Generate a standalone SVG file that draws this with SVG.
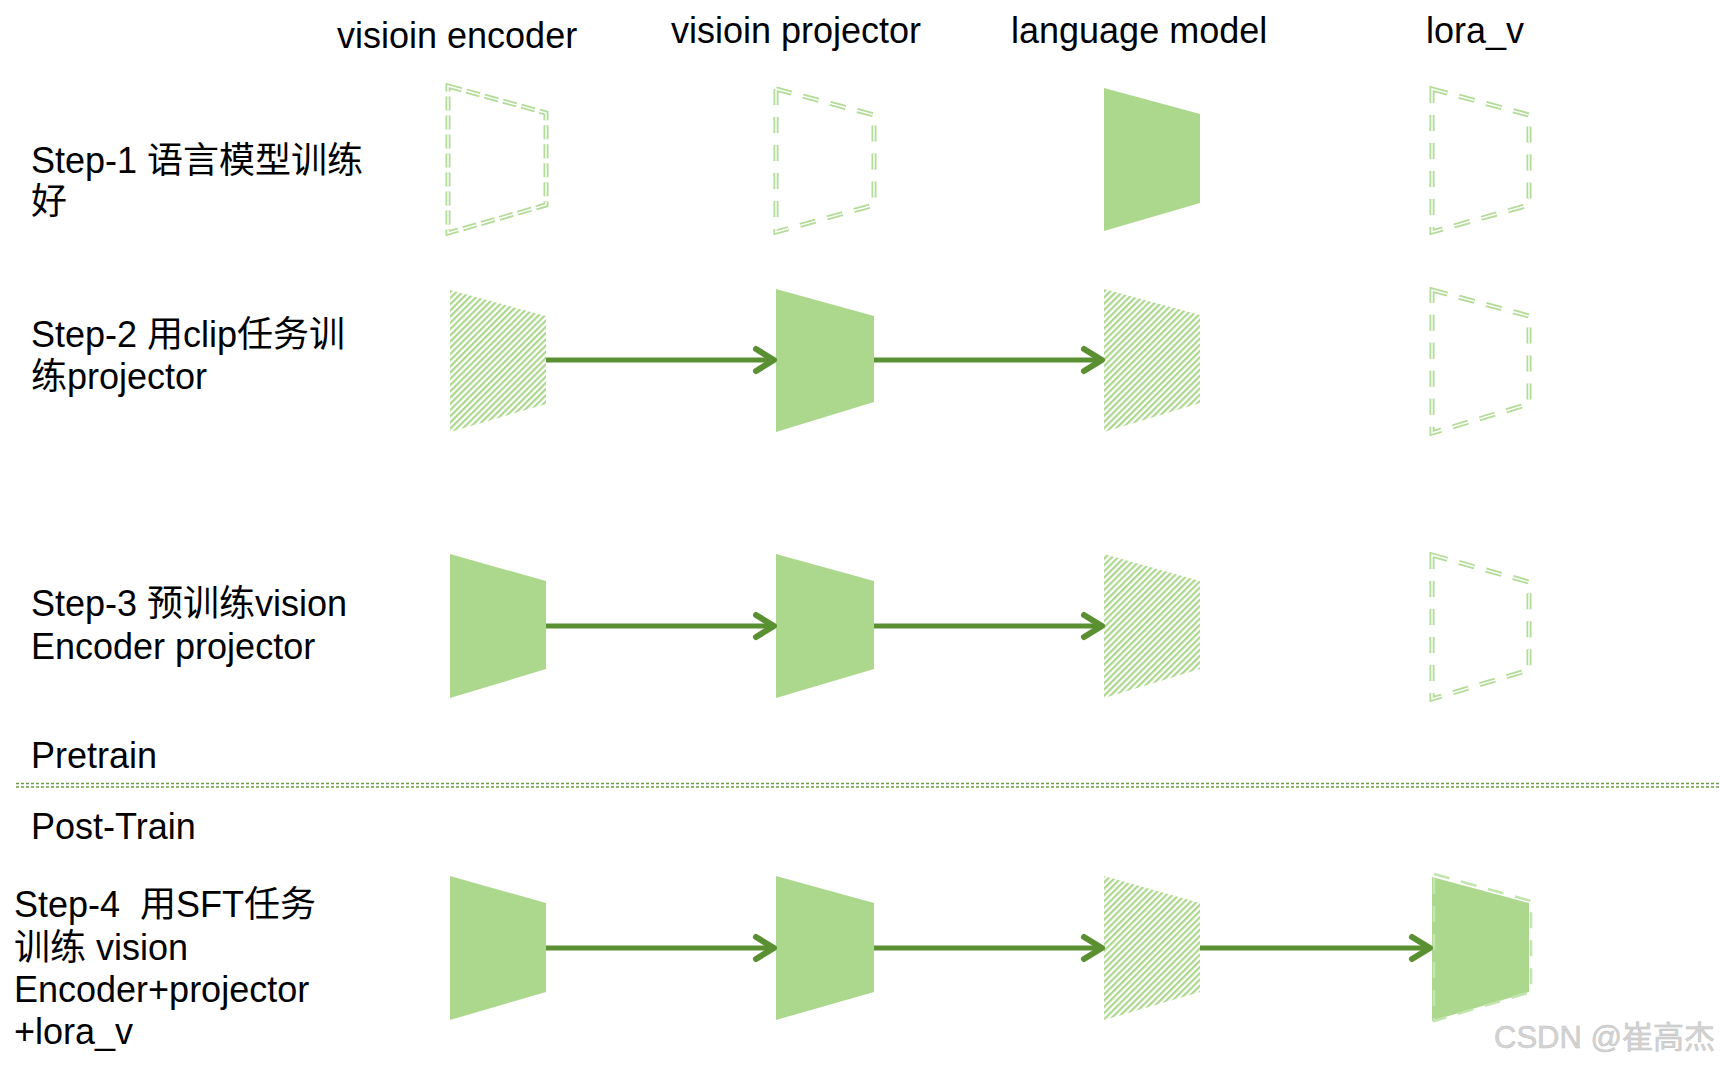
<svg xmlns="http://www.w3.org/2000/svg" width="1720" height="1066" viewBox="0 0 1720 1066">
<style>
  text { font-family: "Liberation Sans", "Noto Sans CJK SC", sans-serif; font-size: 36px; fill: #000; }
  .wm { font-size: 31px; fill: #d4d4d4; stroke: #c0c0c0; stroke-width: 0.5; }
  .solid { fill: #acd88e; }
  .hatch { fill: url(#hatch); }
  .dashOuter { fill: none; stroke: #b2dc98; stroke-width: 5; stroke-dasharray: 16 12; }
  .dashInner { fill: none; stroke: #ffffff; stroke-width: 1.4; stroke-dasharray: 16 12; }
  .dashOuterD { fill: none; stroke: #b2dc98; stroke-width: 5; stroke-dasharray: 14 5; }
  .dashInnerD { fill: none; stroke: #ffffff; stroke-width: 1.4; stroke-dasharray: 14 5; }
  .arrow { stroke: #5a8f32; stroke-width: 5; fill: none; marker-end: url(#chev); }
  .sep { stroke: #6c9f44; stroke-width: 1.6; stroke-dasharray: 3 2; fill: none; }
</style>
<defs>
  <pattern id="hatch" patternUnits="userSpaceOnUse" width="4.4" height="4.4" patternTransform="rotate(45)">
    <rect x="0" y="0" width="2.2" height="4.4" fill="#acd88e"/>
  </pattern>
  <marker id="chev" markerUnits="userSpaceOnUse" markerWidth="40" markerHeight="40" refX="30" refY="20" orient="auto" overflow="visible">
    <path d="M 12,9 L 30,20 L 12,31" fill="none" stroke="#5a8f32" stroke-width="6" stroke-linecap="round" stroke-linejoin="round"/>
  </marker>
</defs>

<!-- headers -->
<g id="headers">
  <text x="337" y="48">visioin encoder</text>
  <text x="671" y="43">visioin projector</text>
  <text x="1011" y="43">language model</text>
  <text x="1426" y="43">lora_v</text>
</g>

<!-- row labels -->
<g id="labels">
  <text x="31" y="173">Step-1 语言模型训练</text>
  <text x="31" y="214">好</text>
  <text x="31" y="347">Step-2 用clip任务训</text>
  <text x="31" y="389">练projector</text>
  <text x="31" y="616">Step-3 预训练vision</text>
  <text x="31" y="659">Encoder projector</text>
  <text x="31" y="768">Pretrain</text>
  <text x="31" y="839">Post-Train</text>
  <text x="14" y="917" style="white-space:pre">Step-4  用SFT任务</text>
  <text x="14" y="960">训练 vision</text>
  <text x="14" y="1002">Encoder+projector</text>
  <text x="14" y="1044">+lora_v</text>
</g>

<!-- separator -->
<g id="separator">
  <line class="sep" x1="16" y1="783.5" x2="1720" y2="783.5"/>
  <line class="sep" x1="16" y1="787" x2="1720" y2="787"/>
</g>

<!-- Row 1 -->
<g id="r1-encoder">
  <polygon class="dashOuterD" points="448,86 546,113 546,205 448,233"/>
  <polygon class="dashInnerD" points="448,86 546,113 546,205 448,233"/>
</g>
<g id="r1-projector">
  <polygon class="dashOuter" points="776,89 874,115 874,205 776,232"/>
  <polygon class="dashInner" points="776,89 874,115 874,205 776,232"/>
</g>
<g id="r1-lm">
  <polygon class="solid" points="1104,88 1200,114 1200,203 1104,231"/>
</g>
<g id="r1-lora">
  <polygon class="dashOuter" points="1432,89 1529,115 1529,205 1432,232"/>
  <polygon class="dashInner" points="1432,89 1529,115 1529,205 1432,232"/>
</g>

<!-- Row 2 -->
<g id="r2-encoder">
  <polygon class="hatch" points="450,290 546,316 546,404 450,432"/>
</g>
<g id="r2-projector">
  <polygon class="solid" points="776,289 874,316 874,402 776,432"/>
</g>
<g id="r2-lm">
  <polygon class="hatch" points="1104,289 1200,315 1200,403 1104,432"/>
</g>
<g id="r2-lora">
  <polygon class="dashOuter" points="1432,290 1529,316 1529,404 1432,433"/>
  <polygon class="dashInner" points="1432,290 1529,316 1529,404 1432,433"/>
</g>

<!-- Row 3 -->
<g id="r3-encoder">
  <polygon class="solid" points="450,554 546,581 546,669 450,698"/>
</g>
<g id="r3-projector">
  <polygon class="solid" points="776,554 874,581 874,669 776,698"/>
</g>
<g id="r3-lm">
  <polygon class="hatch" points="1104,554 1200,581 1200,669 1104,698"/>
</g>
<g id="r3-lora">
  <polygon class="dashOuter" points="1432,555 1529,582 1529,670 1432,699"/>
  <polygon class="dashInner" points="1432,555 1529,582 1529,670 1432,699"/>
</g>

<!-- Row 4 -->
<g id="r4-encoder">
  <polygon class="solid" points="450,876 546,903 546,992 450,1020"/>
</g>
<g id="r4-projector">
  <polygon class="solid" points="776,876 874,903 874,992 776,1020"/>
</g>
<g id="r4-lm">
  <polygon class="hatch" points="1104,876 1200,903 1200,992 1104,1020"/>
</g>
<g id="r4-lora">
  <polygon class="solid" points="1432,877 1529,903 1529,992 1432,1021"/>
  <polygon class="dashOuter" points="1434,874 1531,901 1531,992 1434,1021" style="stroke-width:2.5;stroke:#c2e4ad"/>
</g>

<!-- connectors -->
<g id="connectors">
  <line class="arrow" x1="546" y1="360" x2="774" y2="360"/>
  <line class="arrow" x1="874" y1="360" x2="1102" y2="360"/>
  <line class="arrow" x1="546" y1="626" x2="774" y2="626"/>
  <line class="arrow" x1="874" y1="626" x2="1102" y2="626"/>
  <line class="arrow" x1="546" y1="948" x2="774" y2="948"/>
  <line class="arrow" x1="874" y1="948" x2="1102" y2="948"/>
  <line class="arrow" x1="1200" y1="948" x2="1430" y2="948"/>
</g>

<text class="wm" x="1494" y="1048">CSDN @崔高杰</text>
</svg>
